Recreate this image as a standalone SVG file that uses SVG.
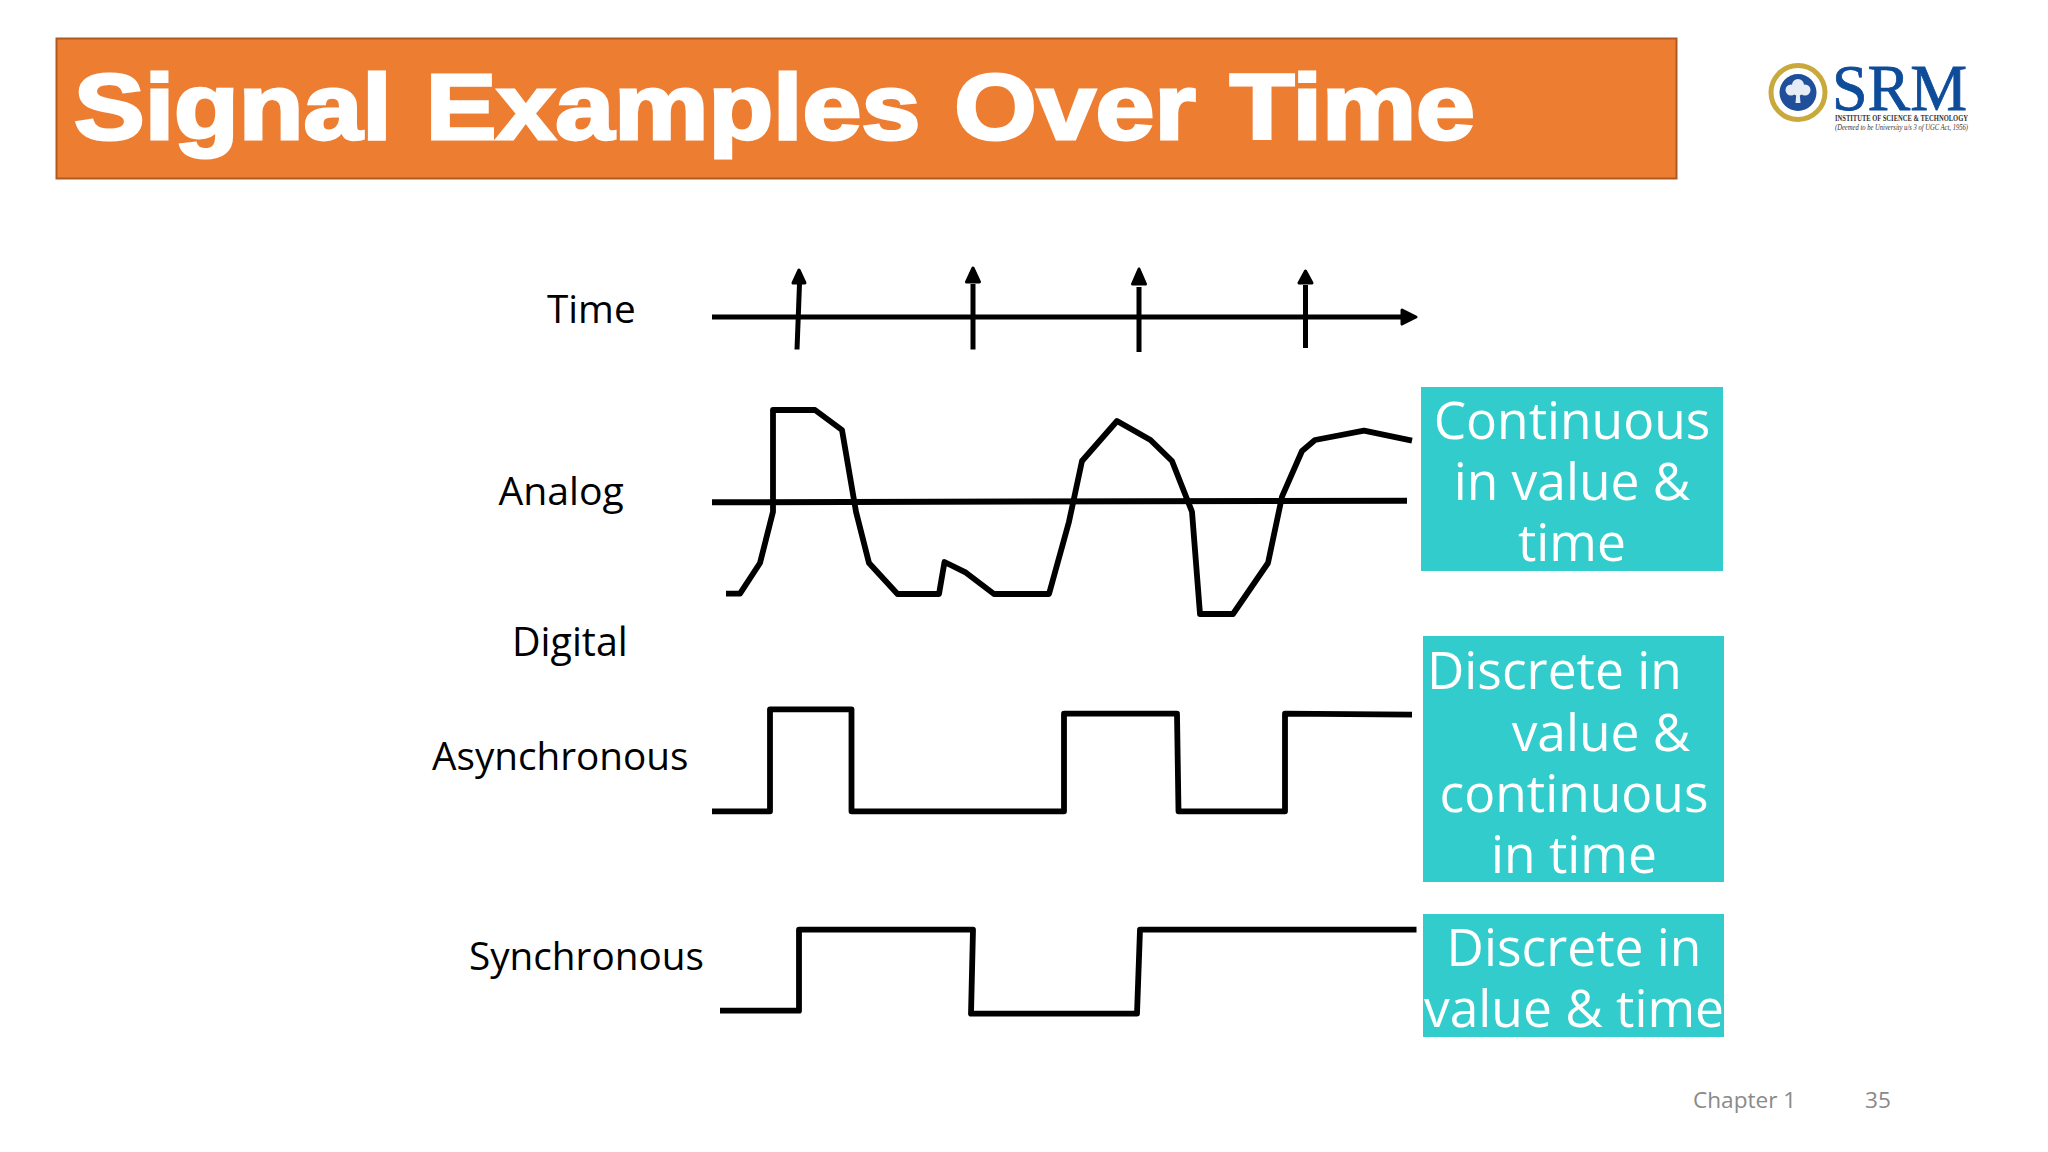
<svg xmlns="http://www.w3.org/2000/svg" width="2048" height="1152" viewBox="0 0 2048 1152">
<style>
.lb{font-family:"Open Sans",sans-serif;font-size:38.7px;fill:#000}
.bx{font-family:"Open Sans",sans-serif;font-size:51.500px;fill:#fff;text-anchor:middle}
.box{fill:#33CCCC}
.w{fill:none;stroke:#000;stroke-width:5.8;stroke-linejoin:round}
.ax{fill:none;stroke:#000;stroke-width:5}
.ft{font-family:"Open Sans",sans-serif;font-size:22.600px;fill:#8a8a8a}
.hd{fill:#000;stroke:#000;stroke-width:3;stroke-linejoin:round}
.tr{fill:#e6ecf5}
</style>
<rect width="2048" height="1152" fill="#fff"/>
<g id="title">
<rect x="56.500" y="38.500" width="1620" height="140" fill="#ED7D31" stroke="#AE5A21" stroke-width="2"/>
<text x="74" y="138.500" font-family="'Liberation Sans',Arial,sans-serif" font-weight="700" font-size="92" fill="#fff" stroke="#fff" stroke-width="3" word-spacing="4" textLength="1401" lengthAdjust="spacingAndGlyphs">Signal Examples Over Time</text>
</g>
<g id="logo">
<circle cx="1798" cy="92.500" r="27" fill="#fff" stroke="#C9A83C" stroke-width="5"/>
<circle cx="1798" cy="92.500" r="18.500" fill="#1F4E9B"/>
<circle class="tr" cx="1791" cy="90" r="5.500"/><circle class="tr" cx="1798" cy="85" r="6"/><circle class="tr" cx="1805" cy="90" r="5.500"/><circle class="tr" cx="1798" cy="91" r="5"/>
<path class="tr" d="M1796.500 92H1799.500L1800.500 103H1795.500Z"/>
<text x="1832" y="110" font-family="'Liberation Serif',serif" font-size="65" fill="#0E4C9A" stroke="#0E4C9A" stroke-width=".8" textLength="135" lengthAdjust="spacingAndGlyphs">SRM</text>
<text x="1835" y="121" font-family="'Liberation Serif',serif" font-weight="700" font-size="8" fill="#333" textLength="133" lengthAdjust="spacingAndGlyphs">INSTITUTE OF SCIENCE &amp; TECHNOLOGY</text>
<text x="1835" y="129.500" font-family="'Liberation Serif',serif" font-style="italic" font-size="7.500" fill="#333" textLength="133" lengthAdjust="spacingAndGlyphs">(Deemed to be University u/s 3 of UGC Act, 1956)</text>
</g>
<g id="time"><text class="lb" x="547" y="323">Time</text></g>
<g id="analog"><text class="lb" x="498.500" y="505" style="font-size:39.200px">Analog</text></g>
<g id="digital"><text class="lb" x="512" y="656" style="font-size:39.400px">Digital</text></g>
<g id="asynchronous"><text class="lb" x="432" y="770">Asynchronous</text></g>
<g id="synchronous"><text class="lb" x="469" y="970">Synchronous</text></g>
<g id="box-continuous">
<rect class="box" x="1421" y="387" width="302" height="184"/>
<text class="bx" x="1572" y="439">Continuous</text>
<text class="bx" x="1572" y="500">in value &amp;</text>
<text class="bx" x="1572" y="561">time</text>
</g>
<g id="box-discrete-value">
<rect class="box" x="1423" y="636" width="301" height="246"/>
<text x="1427" y="688.500" class="bx" style="text-anchor:start">Discrete in</text>
<text class="bx" x="1601" y="750.500">value &amp;</text>
<text class="bx" x="1574" y="811.500">continuous</text>
<text class="bx" x="1574" y="872.500">in time</text>
</g>
<g id="box-discrete-both">
<rect class="box" x="1423" y="914" width="301" height="123"/>
<text class="bx" x="1574" y="966">Discrete in</text>
<text class="bx" x="1574" y="1027">value &amp; time</text>
</g>
<g id="footer">
<text class="ft" x="1693" y="1108">Chapter 1</text>
<text class="ft" x="1865" y="1108">35</text>
</g>
<g id="connectors">
<path class="ax" d="M712 317H1408"/>
<path class="hd" d="M1402 310L1416 317L1402 324Z"/>
<path class="ax" d="M797 349.500L799.500 284"/><path class="hd" d="M793 283L799 270L805 283Z"/>
<path class="ax" d="M973 349.500V284"/><path class="hd" d="M966.500 282L973 268L979.500 282Z"/>
<path class="ax" d="M1139 352V287"/><path class="hd" d="M1132.500 284L1139 269L1145.500 284Z"/>
<path class="ax" d="M1305.500 348V285"/><path class="hd" d="M1299 283L1305.500 271L1312 283Z"/>
<path class="ax" style="stroke-width:6" d="M712 502.300L1407 500.700"/>
<path class="w" d="M726 593.700H740L760 563L773 511.700V410H815L842 430L856 511.700L869 563L897.500 594H939L944.500 562L966 572.700L994 594H1049L1069 521.700L1082 461L1117 421L1150.500 440L1172 461L1192 511.700L1200 614H1233L1268 563L1282 496.700L1302 451L1315 440L1364 430.700L1412 440.700"/>
<path class="w" d="M712 811.300H770V709.300H851.500V811.300H1064V713.700H1177L1178.500 811.300H1285V713.700L1412 714.700"/>
<path class="w" d="M720 1010.700H799V929.700H973L971 1013.700H1137L1140 929.700H1416.500"/>
</g>
</svg>
